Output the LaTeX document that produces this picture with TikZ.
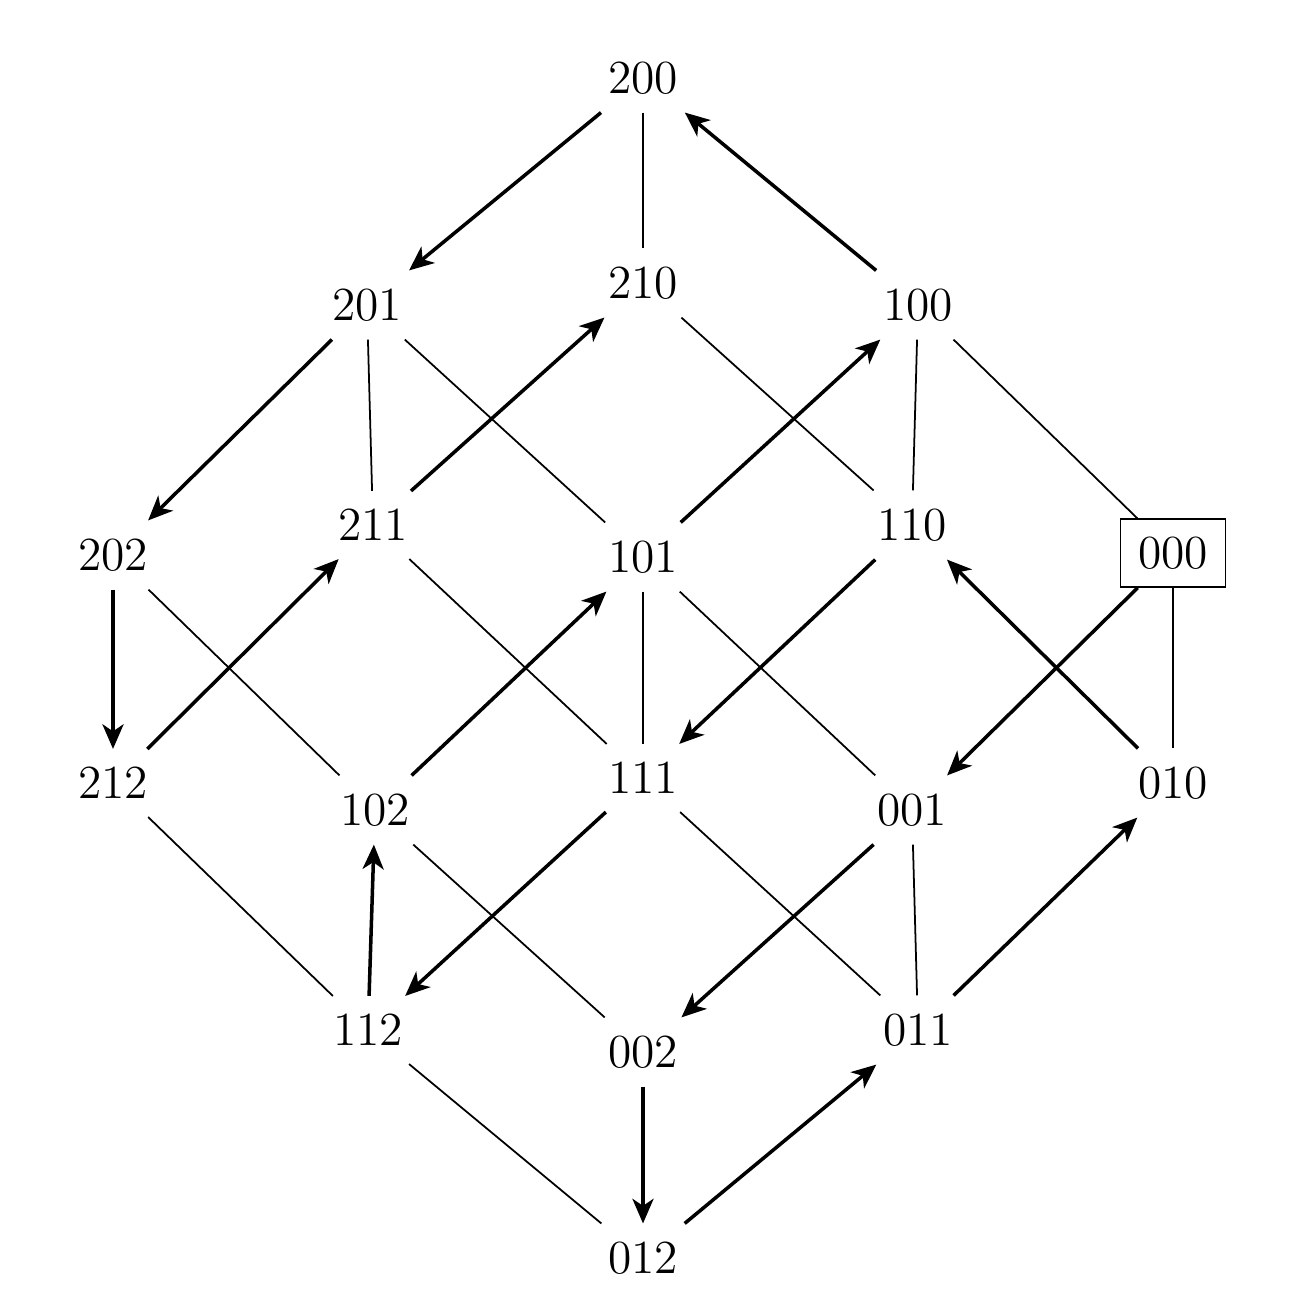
\documentclass[tikz,border=0pt]{standalone}
\usetikzlibrary{arrows.meta}
\begin{document}
\begin{tikzpicture}[x=0.01cm,y=-0.01cm,
  v/.style={font=\fontsize{13.5}{16}\selectfont,inner sep=5pt},
  ln/.style={line width=0.5pt},
  ar/.style={line width=1pt,-{Stealth[length=7pt,width=6pt,inset=2pt]}}]
\useasboundingbox (0,0) rectangle (1308,1308);
\node[v] (200) at (643,78) {200};
\node[v] (201) at (367,305) {201};
\node[v] (210) at (643,283) {210};
\node[v] (100) at (918,305) {100};
\node[v] (202) at (113,555) {202};
\node[v] (211) at (373,525) {211};
\node[v] (101) at (643,557) {101};
\node[v] (110) at (912,525) {110};
\node[v,draw,line width=0.5pt] (000) at (1173,553) {000};
\node[v] (212) at (113,783) {212};
\node[v] (102) at (375,810) {102};
\node[v] (111) at (643,778) {111};
\node[v] (001) at (912,810) {001};
\node[v] (010) at (1173,783) {010};
\node[v] (112) at (368,1030) {112};
\node[v] (002) at (643,1052) {002};
\node[v] (011) at (918,1030) {011};
\node[v] (012) at (643,1258) {012};
\draw[ar] (200)--(201); \draw[ln] (200)--(210); \draw[ar] (100)--(200);
\draw[ar] (201)--(202); \draw[ln] (201)--(211); \draw[ln] (201)--(101);
\draw[ar] (211)--(210); \draw[ln] (210)--(110);
\draw[ar] (101)--(100); \draw[ln] (100)--(110); \draw[ln] (100)--(000);
\draw[ar] (202)--(212); \draw[ln] (202)--(102);
\draw[ar] (212)--(211); \draw[ln] (211)--(111);
\draw[ar] (102)--(101); \draw[ln] (101)--(111); \draw[ln] (101)--(001);
\draw[ar] (110)--(111);
\draw[ar] (000)--(001); \draw[ln] (000)--(010);
\draw[ar] (010)--(110);
\draw[ln] (212)--(112);
\draw[ar] (112)--(102); \draw[ln] (102)--(002);
\draw[ar] (111)--(112); \draw[ln] (111)--(011);
\draw[ar] (001)--(002); \draw[ln] (001)--(011);
\draw[ar] (011)--(010);
\draw[ln] (112)--(012);
\draw[ar] (002)--(012);
\draw[ar] (012)--(011);
\end{tikzpicture}
\end{document}
